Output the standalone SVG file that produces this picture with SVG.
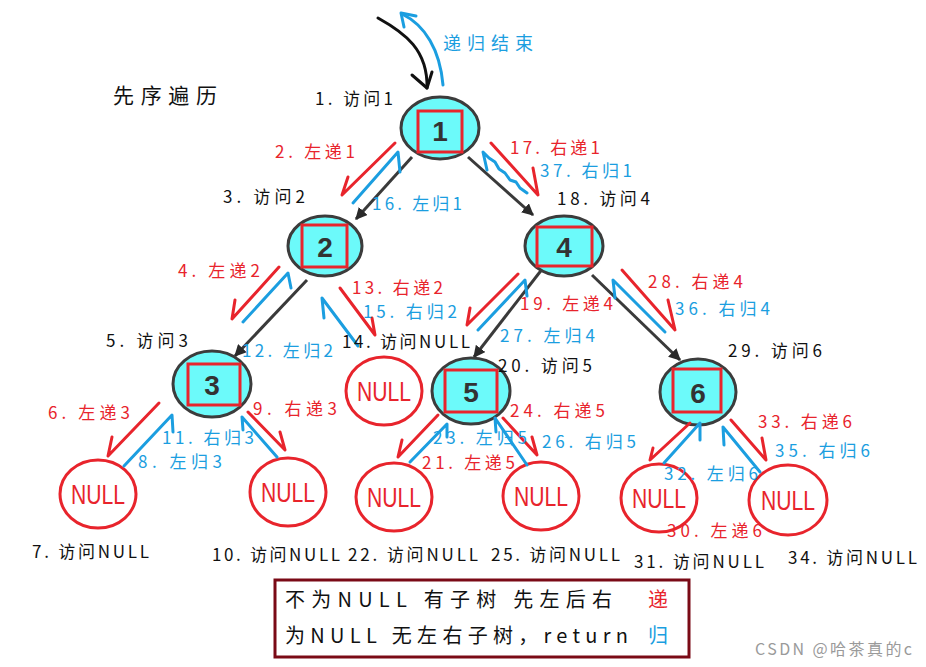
<svg xmlns="http://www.w3.org/2000/svg" width="926" height="667" viewBox="0 0 926 667">
<defs>
<style>
.lbl{font-family:"Noto Sans CJK SC","Liberation Sans",sans-serif;font-size:17px}
.k{fill:#111}
.r{fill:#e8242c}
.b{fill:#1b9ee0}
.node ellipse{fill:#6cfafa;stroke:#3c3c3c;stroke-width:3}
.node rect{fill:none;stroke:#e8242c;stroke-width:3}
.node text{font-family:"Liberation Sans",Arial,sans-serif;font-weight:bold;font-size:28px;fill:#333;text-anchor:middle}
.null ellipse{fill:none;stroke:#e8242c;stroke-width:3}
.null text{font-family:"Liberation Sans",Arial,sans-serif;font-size:27px;fill:#e8242c;text-anchor:middle}
.edge{stroke:#3a3a3a;stroke-width:3;fill:none;marker-end:url(#ah)}
.ra{stroke:#e8242c;stroke-width:3;fill:none;stroke-linecap:round;stroke-linejoin:round}
.ba{stroke:#1b9ee0;stroke-width:3;fill:none;stroke-linecap:round;stroke-linejoin:round}
.box{fill:none;stroke:#7a0a16;stroke-width:3}
.bt{font-family:"Noto Sans CJK SC","Liberation Mono",monospace;font-size:20px;fill:#111}
</style>
<marker id="ah" viewBox="0 0 10 10" refX="9" refY="5" markerWidth="4" markerHeight="4" orient="auto" markerUnits="strokeWidth">
<path d="M0,0 L10,5 L0,10 z" fill="#2a2a2a"/>
</marker>
</defs>
<rect width="926" height="667" fill="#fff"/>

<g id="connectors">
<line class="edge" x1="412" y1="157" x2="356" y2="219"/>
<line class="edge" x1="468" y1="157" x2="533" y2="215"/>
<line class="edge" x1="307" y1="280" x2="235" y2="356"/>
<line class="edge" x1="543" y1="268" x2="474" y2="357"/>
<line class="edge" x1="592" y1="275" x2="680" y2="360"/>
</g>

<g id="node1" class="node"><ellipse cx="440" cy="128" rx="39" ry="31"/><rect x="418" y="111" width="44" height="41"/><text x="440" y="141">1</text></g>
<g id="node2" class="node"><ellipse cx="325" cy="246" rx="37" ry="30"/><rect x="302" y="225" width="45" height="42"/><text x="325" y="257">2</text></g>
<g id="node4" class="node"><ellipse cx="564" cy="246" rx="39" ry="30"/><rect x="537" y="227" width="55" height="39"/><text x="564" y="257">4</text></g>
<g id="node3" class="node"><ellipse cx="212" cy="384" rx="39" ry="33"/><rect x="188" y="364" width="52" height="41"/><text x="212" y="395">3</text></g>
<g id="node5" class="node"><ellipse cx="471" cy="391" rx="39" ry="33"/><rect x="445" y="370" width="52" height="42"/><text x="471" y="402">5</text></g>
<g id="node6" class="node"><ellipse cx="698" cy="392" rx="38" ry="33"/><rect x="673" y="369" width="48" height="43"/><text x="698" y="403">6</text></g>

<g id="null-a" class="null"><ellipse cx="98" cy="494" rx="38" ry="34"/><text x="98" y="504" textLength="54" lengthAdjust="spacingAndGlyphs">NULL</text></g>
<g id="null-b" class="null"><ellipse cx="288" cy="492" rx="38" ry="34"/><text x="288" y="502" textLength="54" lengthAdjust="spacingAndGlyphs">NULL</text></g>
<g id="null-d" class="null"><ellipse cx="384" cy="391" rx="38" ry="34"/><text x="384" y="401" textLength="54" lengthAdjust="spacingAndGlyphs">NULL</text></g>
<g id="null-c" class="null"><ellipse cx="394" cy="497" rx="38" ry="34"/><text x="394" y="507" textLength="54" lengthAdjust="spacingAndGlyphs">NULL</text></g>
<g id="null-e" class="null"><ellipse cx="541" cy="496" rx="38" ry="34"/><text x="541" y="506" textLength="54" lengthAdjust="spacingAndGlyphs">NULL</text></g>
<g id="null-f" class="null"><ellipse cx="659" cy="498" rx="38" ry="34"/><text x="659" y="508" textLength="54" lengthAdjust="spacingAndGlyphs">NULL</text></g>
<g id="null-g" class="null"><ellipse cx="788" cy="500" rx="39" ry="35"/><text x="788" y="510" textLength="54" lengthAdjust="spacingAndGlyphs">NULL</text></g>

<g id="trace-arrows">
<path d="M378,18 C405,33 428,50 427,88" fill="none" stroke="#111" stroke-width="3" stroke-linecap="round"/>
<path d="M412,75 L427,88 L432,72" fill="none" stroke="#111" stroke-width="3" stroke-linecap="round" stroke-linejoin="round"/>
<path class="ba" d="M443,85 C440,50 425,25 402,14"/>
<path class="ba" d="M416,16 L401,13 L404,27"/>

<path class="ra" d="M395,143 L342,195 L348,177"/>
<path class="ra" d="M491,143 L538,195 L533,168"/>
<path class="ra" d="M279,267 L232,319 L235,300"/>
<path class="ra" d="M340,288 L375,335 L372,318"/>
<path class="ra" d="M159,403 L108,456 L112,437"/>
<path class="ra" d="M248,412 L285,450 L280,432"/>
<path class="ra" d="M518,274 L467,325 L470,308"/>
<path class="ra" d="M622,270 L675,330 L668,300"/>
<path class="ra" d="M438,415 L398,457 L402,440"/>
<path class="ra" d="M503,418 L537,455 L532,437"/>
<path class="ra" d="M690,423 L650,460 L653,448"/>
<path class="ra" d="M731,420 L766,460 L762,438"/>

<path class="ba" d="M353,203 L398,152 L400,172"/>
<path class="ba" d="M527,193 L520,188 L516,182 L510,180 L505,173 L499,169 L495,162 L489,158 L483,152 L487,170"/>
<path class="ba" d="M243,322 L288,273 L291,288"/>
<path class="ba" d="M358,346 L322,298 L324,318"/>
<path class="ba" d="M124,466 L172,415 L173,432"/>
<path class="ba" d="M277,457 L242,417 L243,430"/>
<path class="ba" d="M478,330 L525,280 L527,296"/>
<path class="ba" d="M665,332 L613,280 L615,298"/>
<path class="ba" d="M410,462 L447,424 L447,437"/>
<path class="ba" d="M527,465 L495,418 L496,432"/>
<path class="ba" d="M664,463 L700,423 L700,440"/>
<path class="ba" d="M760,472 L723,427 L724,445"/>
</g>

<g id="labels" class="lbl">
<text class="b" x="443" y="50" textLength="90" style="font-size:18px">递归结束</text>
<text class="k" x="113" y="103" textLength="104" style="font-size:21px">先序遍历</text>

<text class="k" x="315" y="105" textLength="78">1. 访问1</text>
<text class="k" x="223" y="203" textLength="82">3. 访问2</text>
<text class="k" x="106" y="347" textLength="82">5. 访问3</text>
<text class="k" x="557" y="205" textLength="93">18. 访问4</text>
<text class="k" x="342" y="348" textLength="128">14. 访问NULL</text>
<text class="k" x="498" y="372" textLength="94">20. 访问5</text>
<text class="k" x="728" y="357" textLength="94">29. 访问6</text>
<text class="k" x="32" y="558" textLength="117">7. 访问NULL</text>
<text class="k" x="212" y="561" textLength="128">10. 访问NULL</text>
<text class="k" x="348" y="561" textLength="130">22. 访问NULL</text>
<text class="k" x="491" y="561" textLength="129">25. 访问NULL</text>
<text class="k" x="634" y="568" textLength="130">31. 访问NULL</text>
<text class="k" x="788" y="564" textLength="129">34. 访问NULL</text>

<text class="r" x="275" y="158" textLength="80">2. 左递1</text>
<text class="r" x="510" y="154" textLength="90">17. 右递1</text>
<text class="r" x="178" y="277" textLength="82">4. 左递2</text>
<text class="r" x="352" y="294" textLength="91">13. 右递2</text>
<text class="r" x="48" y="419" textLength="82">6. 左递3</text>
<text class="r" x="253" y="415" textLength="84">9. 右递3</text>
<text class="r" x="520" y="310" textLength="93">19. 左递4</text>
<text class="r" x="648" y="288" textLength="95">28. 右递4</text>
<text class="r" x="510" y="417" textLength="95">24. 右递5</text>
<text class="r" x="422" y="469" textLength="93">21. 左递5</text>
<text class="r" x="758" y="428" textLength="94">33. 右递6</text>
<text class="r" x="667" y="537" textLength="95">30. 左递6</text>

<text class="b" x="372" y="210" textLength="90">16. 左归1</text>
<text class="b" x="540" y="177" textLength="92">37. 右归1</text>
<text class="b" x="242" y="357" textLength="91">12. 左归2</text>
<text class="b" x="363" y="318" textLength="94">15. 右归2</text>
<text class="b" x="162" y="444" textLength="92">11. 右归3</text>
<text class="b" x="138" y="468" textLength="84">8. 左归3</text>
<text class="b" x="500" y="342" textLength="95">27. 左归4</text>
<text class="b" x="675" y="315" textLength="95">36. 右归4</text>
<text class="b" x="433" y="444" textLength="94">23. 左归5</text>
<text class="b" x="542" y="448" textLength="94">26. 右归5</text>
<text class="b" x="664" y="480" textLength="94">32. 左归6</text>
<text class="b" x="775" y="457" textLength="95">35. 右归6</text>
</g>

<g id="legend">
<rect class="box" x="275" y="580" width="414" height="77"/>
<text class="bt" x="285" y="607" textLength="327">不为NULL 有子树 先左后右</text>
<text class="bt" x="648" y="607" style="fill:#e8242c">递</text>
<text class="bt" x="285" y="643" textLength="343">为NULL 无左右子树，return</text>
<text class="bt" x="648" y="643" style="fill:#1b9ee0">归</text>
</g>

<text x="755" y="655" textLength="157" style="font-family:'Noto Sans CJK SC','Liberation Sans',sans-serif;font-size:16px;fill:#9a9a9a">CSDN @哈茶真的c</text>
</svg>
